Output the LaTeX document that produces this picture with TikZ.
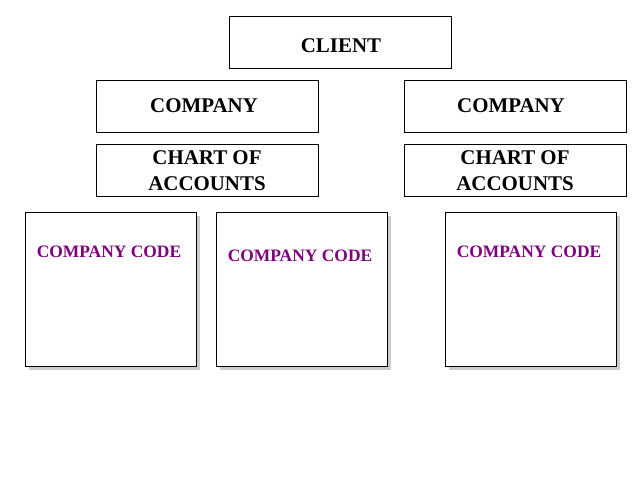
\documentclass[tikz,border=0pt]{standalone}
\usepackage{fontspec}
\setmainfont{Liberation Serif}
\definecolor{cc}{HTML}{800080}
\begin{document}
\begin{tikzpicture}[x=1bp,y=-1bp,
  box/.style={draw=black,fill=white,line width=0.6bp},
  sh/.style={fill=black!20},
  t/.style={font=\bfseries\fontsize{21}{26}\selectfont,align=center},
  ct/.style={font=\bfseries\fontsize{17.5}{20}\selectfont,text=cc}]
\useasboundingbox (0,0) rectangle (638,478);
\foreach \n/\a/\b/\c/\d in {cl/229/16/451/68, c1/96/80/318/132, c2/404/80/626/132, a1/96/144/318/196, a2/404/144/626/196}{
  \draw[box] (\a,\b) rectangle (\c,\d) coordinate (\n);
}
\foreach \n/\a/\b in {k1/25/212, k2/216/212, k3/445/212}{
  \fill[sh] (\a+4,\b+4) rectangle (\a+175,\b+158);
  \draw[box] (\a,\b) rectangle (\a+171,\b+154);
}
\node[t] (tcl) at (341,46) {CLIENT};
\node[t] (tc1) at (204,106) {COMPANY};
\node[t] (tc2) at (511,106) {COMPANY};
\node[t] (ta1) at (207,171) {CHART OF\\ACCOUNTS};
\node[t] (ta2) at (515,171) {CHART OF\\ACCOUNTS};
\node[ct] (tk1) at (109,252) {COMPANY CODE};
\node[ct] (tk2) at (300,256) {COMPANY CODE};
\node[ct] (tk3) at (529,252) {COMPANY CODE};
\end{tikzpicture}
\end{document}
